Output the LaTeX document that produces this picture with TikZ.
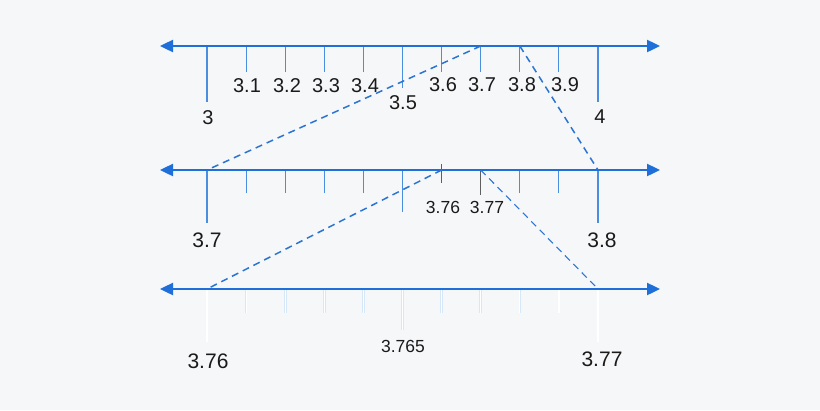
\documentclass[tikz,border=0pt]{standalone}
\usepackage{fontspec}
\setmainfont{Liberation Sans}
\usetikzlibrary{arrows.meta}
\definecolor{axisblue}{HTML}{1E6FD9}
\definecolor{tickblue}{HTML}{4A8FDF}
\definecolor{dashblue}{HTML}{2B74D2}
\definecolor{faintblue}{HTML}{D6E8F7}
\definecolor{bgc}{HTML}{F6F7F9}
\definecolor{txt}{HTML}{1A1A1A}
\begin{document}
\begin{tikzpicture}[x=1pt,y=-1pt,
  axis/.style={axisblue, line width=2.4pt, {Triangle[length=13pt,width=12pt]}-{Triangle[length=13pt,width=12pt]}},
  tickmark/.style={tickblue, line width=1.1pt},
  faintedge/.style={faintblue, line width=2.6pt},
  faintcore/.style={white, line width=1.2pt},
  conn/.style={dashblue, line width=1.5pt, dash pattern=on 7pt off 5pt},
  lbl/.style={text=txt, inner sep=0pt, font=\fontsize{20}{20}\selectfont},
  lblbig/.style={text=txt, inner sep=0pt, font=\fontsize{21}{21}\selectfont},
  lblsmall/.style={text=txt, inner sep=0pt, font=\fontsize{17.5}{17.5}\selectfont}]
\fill[bgc] (0,0) rectangle (820,410);
\useasboundingbox (0,0) rectangle (820,410);

% axis end coordinates
\coordinate (L1l) at (160,46);  \coordinate (L1r) at (660,46);
\coordinate (L2l) at (160,170); \coordinate (L2r) at (660,170);
\coordinate (L3l) at (160,289); \coordinate (L3r) at (660,289);

\foreach \i in {0,...,10}{
  \coordinate (A\i) at ({207+39.1*\i},46);
  \coordinate (B\i) at ({207+39.1*\i},170);
  \coordinate (C\i) at ({207+39.1*\i},289);
}

% line 1 ticks
\foreach \i in {1,2,3,4,6,7,8,9}{ \draw[tickmark] (A\i) -- ++(0,26); }
\draw[tickmark] (A0) -- ++(0,56);
\draw[tickmark] (A10) -- ++(0,56);
\draw[tickmark] (A5) -- ++(0,42);

% line 2 ticks
\foreach \i in {1,2,3,4,8,9}{ \draw[tickmark] (B\i) -- ++(0,23); }
\draw[tickmark] (B0) -- ++(0,53);
\draw[tickmark] (B10) -- ++(0,53);
\draw[tickmark] (B5) -- ++(0,42);
\draw[tickmark, line width=1pt, txt!70] ([yshift=6pt]B6) -- ++(0,19);
\draw[tickmark, line width=1pt, txt!70] (B7) -- ++(0,25);

% line 3 ticks (faint)
\foreach \i in {1,2,3,4,6,7,8,9}{
  \draw[faintedge] (C\i) -- ++(0,24);
  \draw[faintcore] (C\i) -- ++(0,24);
}
\foreach \i/\l in {0/53,10/53,5/41}{
  \draw[faintedge] (C\i) -- ++(0,\l);
  \draw[faintcore] (C\i) -- ++(0,\l);
}

% axes
\draw[axis] (L1l) -- (L1r);
\draw[axis] (L2l) -- (L2r);
\draw[axis] (L3l) -- (L3r);

% dashed connectors
\draw[conn] (A7) -- (B0);
\draw[conn] (A8) -- (B10);
\draw[conn] (B6) -- (C0);
\draw[conn, line width=1.1pt] (B7) -- (C10);

% line 1 labels
\node[lbl] (n30) at (208,118) {3};
\node[lbl] (n31) at (247,86) {3.1};
\node[lbl] (n32) at (287,86) {3.2};
\node[lbl] (n33) at (326,86) {3.3};
\node[lbl] (n34) at (365,86) {3.4};
\node[lbl] (n35) at (403,103) {3.5};
\node[lbl] (n36) at (443,85) {3.6};
\node[lbl] (n37) at (482,85) {3.7};
\node[lbl] (n38) at (522,85) {3.8};
\node[lbl] (n39) at (565,85) {3.9};
\node[lbl] (n40) at (600,117) {4};

% line 2 labels
\node[lblbig] (m37) at (207,240) {3.7};
\node[lblsmall] (m376) at (443,207) {3.76};
\node[lblsmall] (m377) at (487,207) {3.77};
\node[lblbig] (m38) at (602,240) {3.8};

% line 3 labels
\node[lblbig] (k376) at (208,361) {3.76};
\node[lblsmall] (k3765) at (403,346) {3.765};
\node[lblbig] (k377) at (602,359) {3.77};
\end{tikzpicture}
\end{document}
